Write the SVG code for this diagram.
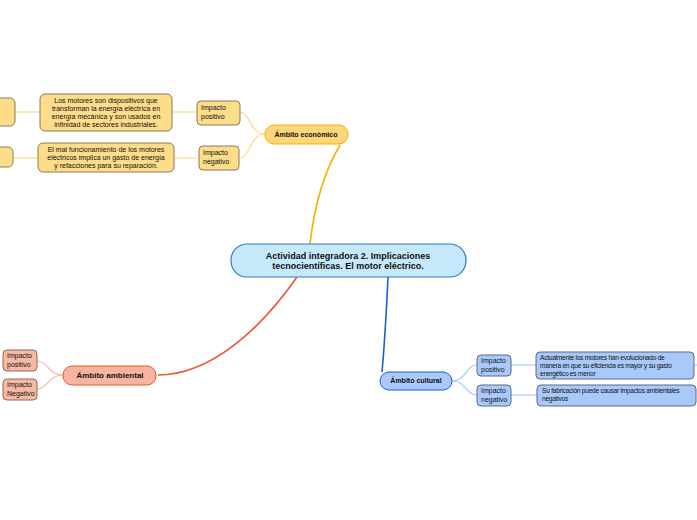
<svg xmlns="http://www.w3.org/2000/svg" width="697" height="520" viewBox="0 0 697 520">
<style>
text{font-family:"Liberation Sans",Arial,sans-serif;fill:#111}
.s{font-size:7px}
.t{font-size:6.6px;letter-spacing:-0.25px}
.y{fill:#fddc8a;stroke:#8a7a55;stroke-width:1}
.r{fill:#f7b8a4;stroke:#8a6a60;stroke-width:1}
.b{fill:#a9c9fb;stroke:#5c6a80;stroke-width:1}
</style>
<rect width="697" height="520" fill="#fff"/>
<g id="connectors" fill="none">
<path d="M340 145 C325 170 315 200 310 244" stroke="#f5b000" stroke-width="1.6"/>
<path d="M297 277 C260 330 210 375 158 375" stroke="#f0532a" stroke-width="1.6"/>
<path d="M388 277 C386 320 384 350 382 372" stroke="#1a5fc8" stroke-width="1.6"/>
<g stroke="#fcd98a" stroke-width="1.2">
<path d="M265 134 C250 134 250 112 240 112"/><path d="M265 134 C250 134 250 158 240 158"/>
<path d="M197 112 H172"/><path d="M197 158 H174"/>
<path d="M40 112 H15"/><path d="M38 158 H13"/>
</g>
<g stroke="#f7b8a4" stroke-width="1.2">
<path d="M63 375 C48 375 48 361 37 361"/><path d="M63 375 C48 375 48 389 37 389"/>
</g>
<g stroke="#a9c9fb" stroke-width="1.2">
<path d="M452 381 C466 381 466 365 477 365"/><path d="M452 381 C466 381 466 395 477 395"/>
<path d="M511 365 H536"/><path d="M511 395 H537"/><path d="M694 365 H697"/>
</g>
</g>
<g id="central"><rect x="231" y="244" width="235" height="33" rx="16" fill="#c5e8fb" stroke="#2a7cc4" stroke-width="1.2"/>
<text x="348" y="259" text-anchor="middle" font-size="9" font-weight="bold">Actividad integradora 2. Implicaciones</text>
<text x="348" y="269" text-anchor="middle" font-size="9" font-weight="bold">tecnocientíficas. El motor eléctrico.</text></g>
<g id="economico"><rect x="265" y="125" width="83" height="19" rx="9" fill="#fdd57a" stroke="#f5b000"/>
<text x="306" y="137" text-anchor="middle" class="s" font-weight="bold">Ámbito económico</text></g>
<g id="eco-pos"><rect x="197" y="101" width="43" height="24" rx="4" class="y"/><text x="201" y="110" class="s">Impacto</text><text x="201" y="119" class="s">positivo</text></g>
<g id="eco-neg"><rect x="199" y="146" width="40" height="24" rx="4" class="y"/><text x="203" y="155" class="s">Impacto</text><text x="203" y="164" class="s">negativo</text></g>
<g id="eco-pos-txt"><rect x="40" y="94" width="132" height="37" rx="5" class="y"/>
<text class="s" text-anchor="middle"><tspan x="106" y="103">Los motores son dispositivos que</tspan><tspan x="106" y="111">transforman la energía eléctrica en</tspan><tspan x="106" y="119">energía mecánica y son usados en</tspan><tspan x="106" y="127">infinidad de sectores industriales.</tspan></text></g>
<g id="eco-neg-txt"><rect x="38" y="143" width="136" height="29" rx="5" class="y"/>
<text class="s" text-anchor="middle"><tspan x="106" y="152">El mal funcionamiento de los motores</tspan><tspan x="106" y="160">eléctricos implica un gasto de energía</tspan><tspan x="106" y="168">y refacciones para su reparación.</tspan></text></g>
<g id="eco-x1"><rect x="-10" y="98" width="25" height="28" rx="5" class="y"/></g>
<g id="eco-x2"><rect x="-10" y="147" width="23" height="20" rx="5" class="y"/></g>
<g id="ambiental"><rect x="63" y="366" width="93" height="19" rx="9" fill="#f7b49e" stroke="#f0532a"/>
<text x="110" y="378" text-anchor="middle" font-size="8" font-weight="bold">Ámbito ambiental</text></g>
<g id="amb-pos"><rect x="3" y="350" width="34" height="21" rx="4" class="r"/><text x="7" y="358" class="s">Impacto</text><text x="7" y="367" class="s">positivo</text></g>
<g id="amb-neg"><rect x="3" y="379" width="34" height="21" rx="4" class="r"/><text x="7" y="387" class="s">Impacto</text><text x="7" y="396" class="s">Negativo</text></g>
<g id="cultural"><rect x="380" y="372" width="72" height="18" rx="9" fill="#a9c9fb" stroke="#1a5fc8"/>
<text x="416" y="383" text-anchor="middle" class="s" font-weight="bold">Ámbito cultural</text></g>
<g id="cul-pos"><rect x="477" y="355" width="34" height="21" rx="4" class="b"/><text x="481" y="363" class="s">Impacto</text><text x="481" y="372" class="s">positivo</text></g>
<g id="cul-neg"><rect x="477" y="385" width="34" height="21" rx="4" class="b"/><text x="481" y="393" class="s">Impacto</text><text x="481" y="402" class="s">negativo</text></g>
<g id="cul-pos-txt"><rect x="536" y="352" width="158" height="27" rx="4" class="b"/>
<text class="t"><tspan x="540" y="360">Actualmente los motores han evolucionado de</tspan><tspan x="540" y="368">manera en que su eficiencia es mayor y su gasto</tspan><tspan x="540" y="376">energético es menor</tspan></text></g>
<g id="cul-neg-txt"><rect x="537" y="385" width="159" height="21" rx="4" class="b"/>
<text class="t"><tspan x="542" y="393">Su fabricación puede causar impactos ambientales</tspan><tspan x="542" y="401">negativos</tspan></text></g>
</svg>
